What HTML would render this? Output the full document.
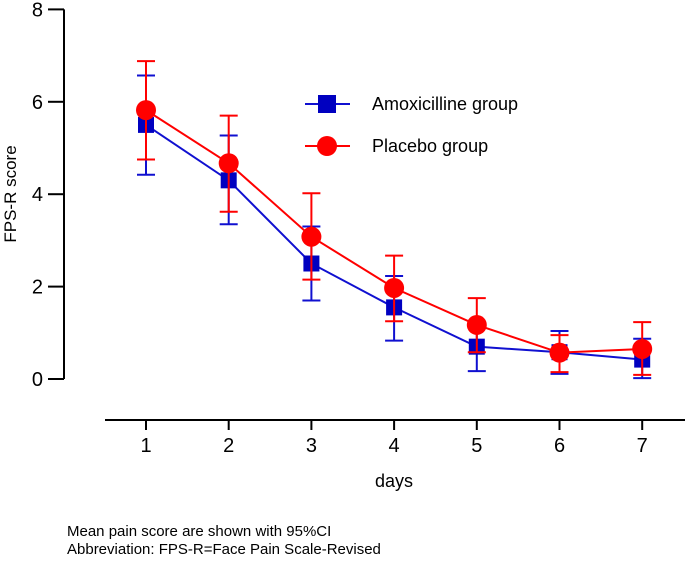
<!DOCTYPE html>
<html><head><meta charset="utf-8"><style>
body{margin:0;background:#fff;width:685px;height:559px;overflow:hidden;font-family:"Liberation Sans",sans-serif}
</style></head><body>
<svg id="c" width="685" height="559" font-family="Liberation Sans, sans-serif"></svg>
<script>
const days=[1,2,3,4,5,6,7];
const yTicks=[0,2,4,6,8];
const amoxMean=[5.5,4.3,2.5,1.55,0.7,0.58,0.42];
const amoxLow=[4.42,3.35,1.7,0.83,0.17,0.11,0.02];
const amoxHigh=[6.57,5.27,3.3,2.23,1.2,1.04,0.87];
const placMean=[5.82,4.67,3.08,1.97,1.17,0.57,0.65];
const placLow=[4.75,3.62,2.15,1.25,0.58,0.15,0.09];
const placHigh=[6.88,5.7,4.02,2.67,1.75,0.95,1.23];
const NS="http://www.w3.org/2000/svg",svg=document.getElementById('c');
const X=d=>146+(d-1)*82.7, Y=v=>379-v*46.2;
function el(t,a,p){const e=document.createElementNS(NS,t);for(const k in a)e.setAttribute(k,a[k]);(p||svg).appendChild(e);return e;}
const ya=el('g',{});
el('line',{x1:64,y1:Y(8),x2:64,y2:Y(0),stroke:'#000','stroke-width':2},ya);
yTicks.forEach(t=>{el('line',{x1:48,y1:Y(t),x2:64,y2:Y(t),stroke:'#000','stroke-width':2},ya);
const tx=el('text',{x:43,y:Y(t)+7,'text-anchor':'end','font-size':20},ya);tx.textContent=t;
});
const yt=el('text',{x:0,y:0,transform:'translate(16,194) rotate(-90)','text-anchor':'middle','font-size':17});yt.textContent='FPS-R score';

const xa=el('g',{});
el('line',{x1:105,y1:420,x2:685,y2:420,stroke:'#000','stroke-width':2},xa);
days.forEach(d=>{el('line',{x1:X(d),y1:420,x2:X(d),y2:430,stroke:'#000','stroke-width':2},xa);
const tx=el('text',{x:X(d),y:452,'text-anchor':'middle','font-size':20},xa);tx.textContent=d;
});
const xt=el('text',{x:394,y:487,'text-anchor':'middle','font-size':18});xt.textContent='days';

function series(mean,lo,hi,col,shape,name){
const g=el('g',{});
el('polyline',{points:days.map((d,i)=>X(d)+','+Y(mean[i])).join(' '),fill:'none',stroke:col,'stroke-width':2},g);
days.forEach((d,i)=>{const x=X(d);
el('line',{x1:x,y1:Y(lo[i]),x2:x,y2:Y(hi[i]),stroke:col,'stroke-width':2},g);
el('line',{x1:x-9,y1:Y(lo[i]),x2:x+9,y2:Y(lo[i]),stroke:col,'stroke-width':2},g);
el('line',{x1:x-9,y1:Y(hi[i]),x2:x+9,y2:Y(hi[i]),stroke:col,'stroke-width':2},g);
let m;if(shape==='sq')m=el('rect',{x:x-8,y:Y(mean[i])-8,width:16,height:16,fill:'#0000c0'},g);
else m=el('circle',{cx:x,cy:Y(mean[i]),r:10,fill:col},g);
});}
series(amoxMean,amoxLow,amoxHigh,'#1010d0','sq','amoxicilline-series');
series(placMean,placLow,placHigh,'#f00','ci','placebo-series');
const lg=el('g',{});
el('line',{x1:305,y1:104,x2:350,y2:104,stroke:'#1010d0','stroke-width':2},lg);
el('rect',{x:318,y:95,width:18,height:18,fill:'#0000c0'},lg);
let t=el('text',{x:372,y:110,'font-size':18},lg);t.textContent='Amoxicilline group';
el('line',{x1:305,y1:146,x2:350,y2:146,stroke:'#f00','stroke-width':2},lg);
el('circle',{cx:327,cy:146,r:10,fill:'#f00'},lg);
t=el('text',{x:372,y:152,'font-size':18},lg);t.textContent='Placebo group';
const n1=el('text',{x:67,y:536,'font-size':15});n1.textContent='Mean pain score are shown with 95%CI';

const n2=el('text',{x:67,y:554,'font-size':15});n2.textContent='Abbreviation: FPS-R=Face Pain Scale-Revised';

</script>
</body></html>
